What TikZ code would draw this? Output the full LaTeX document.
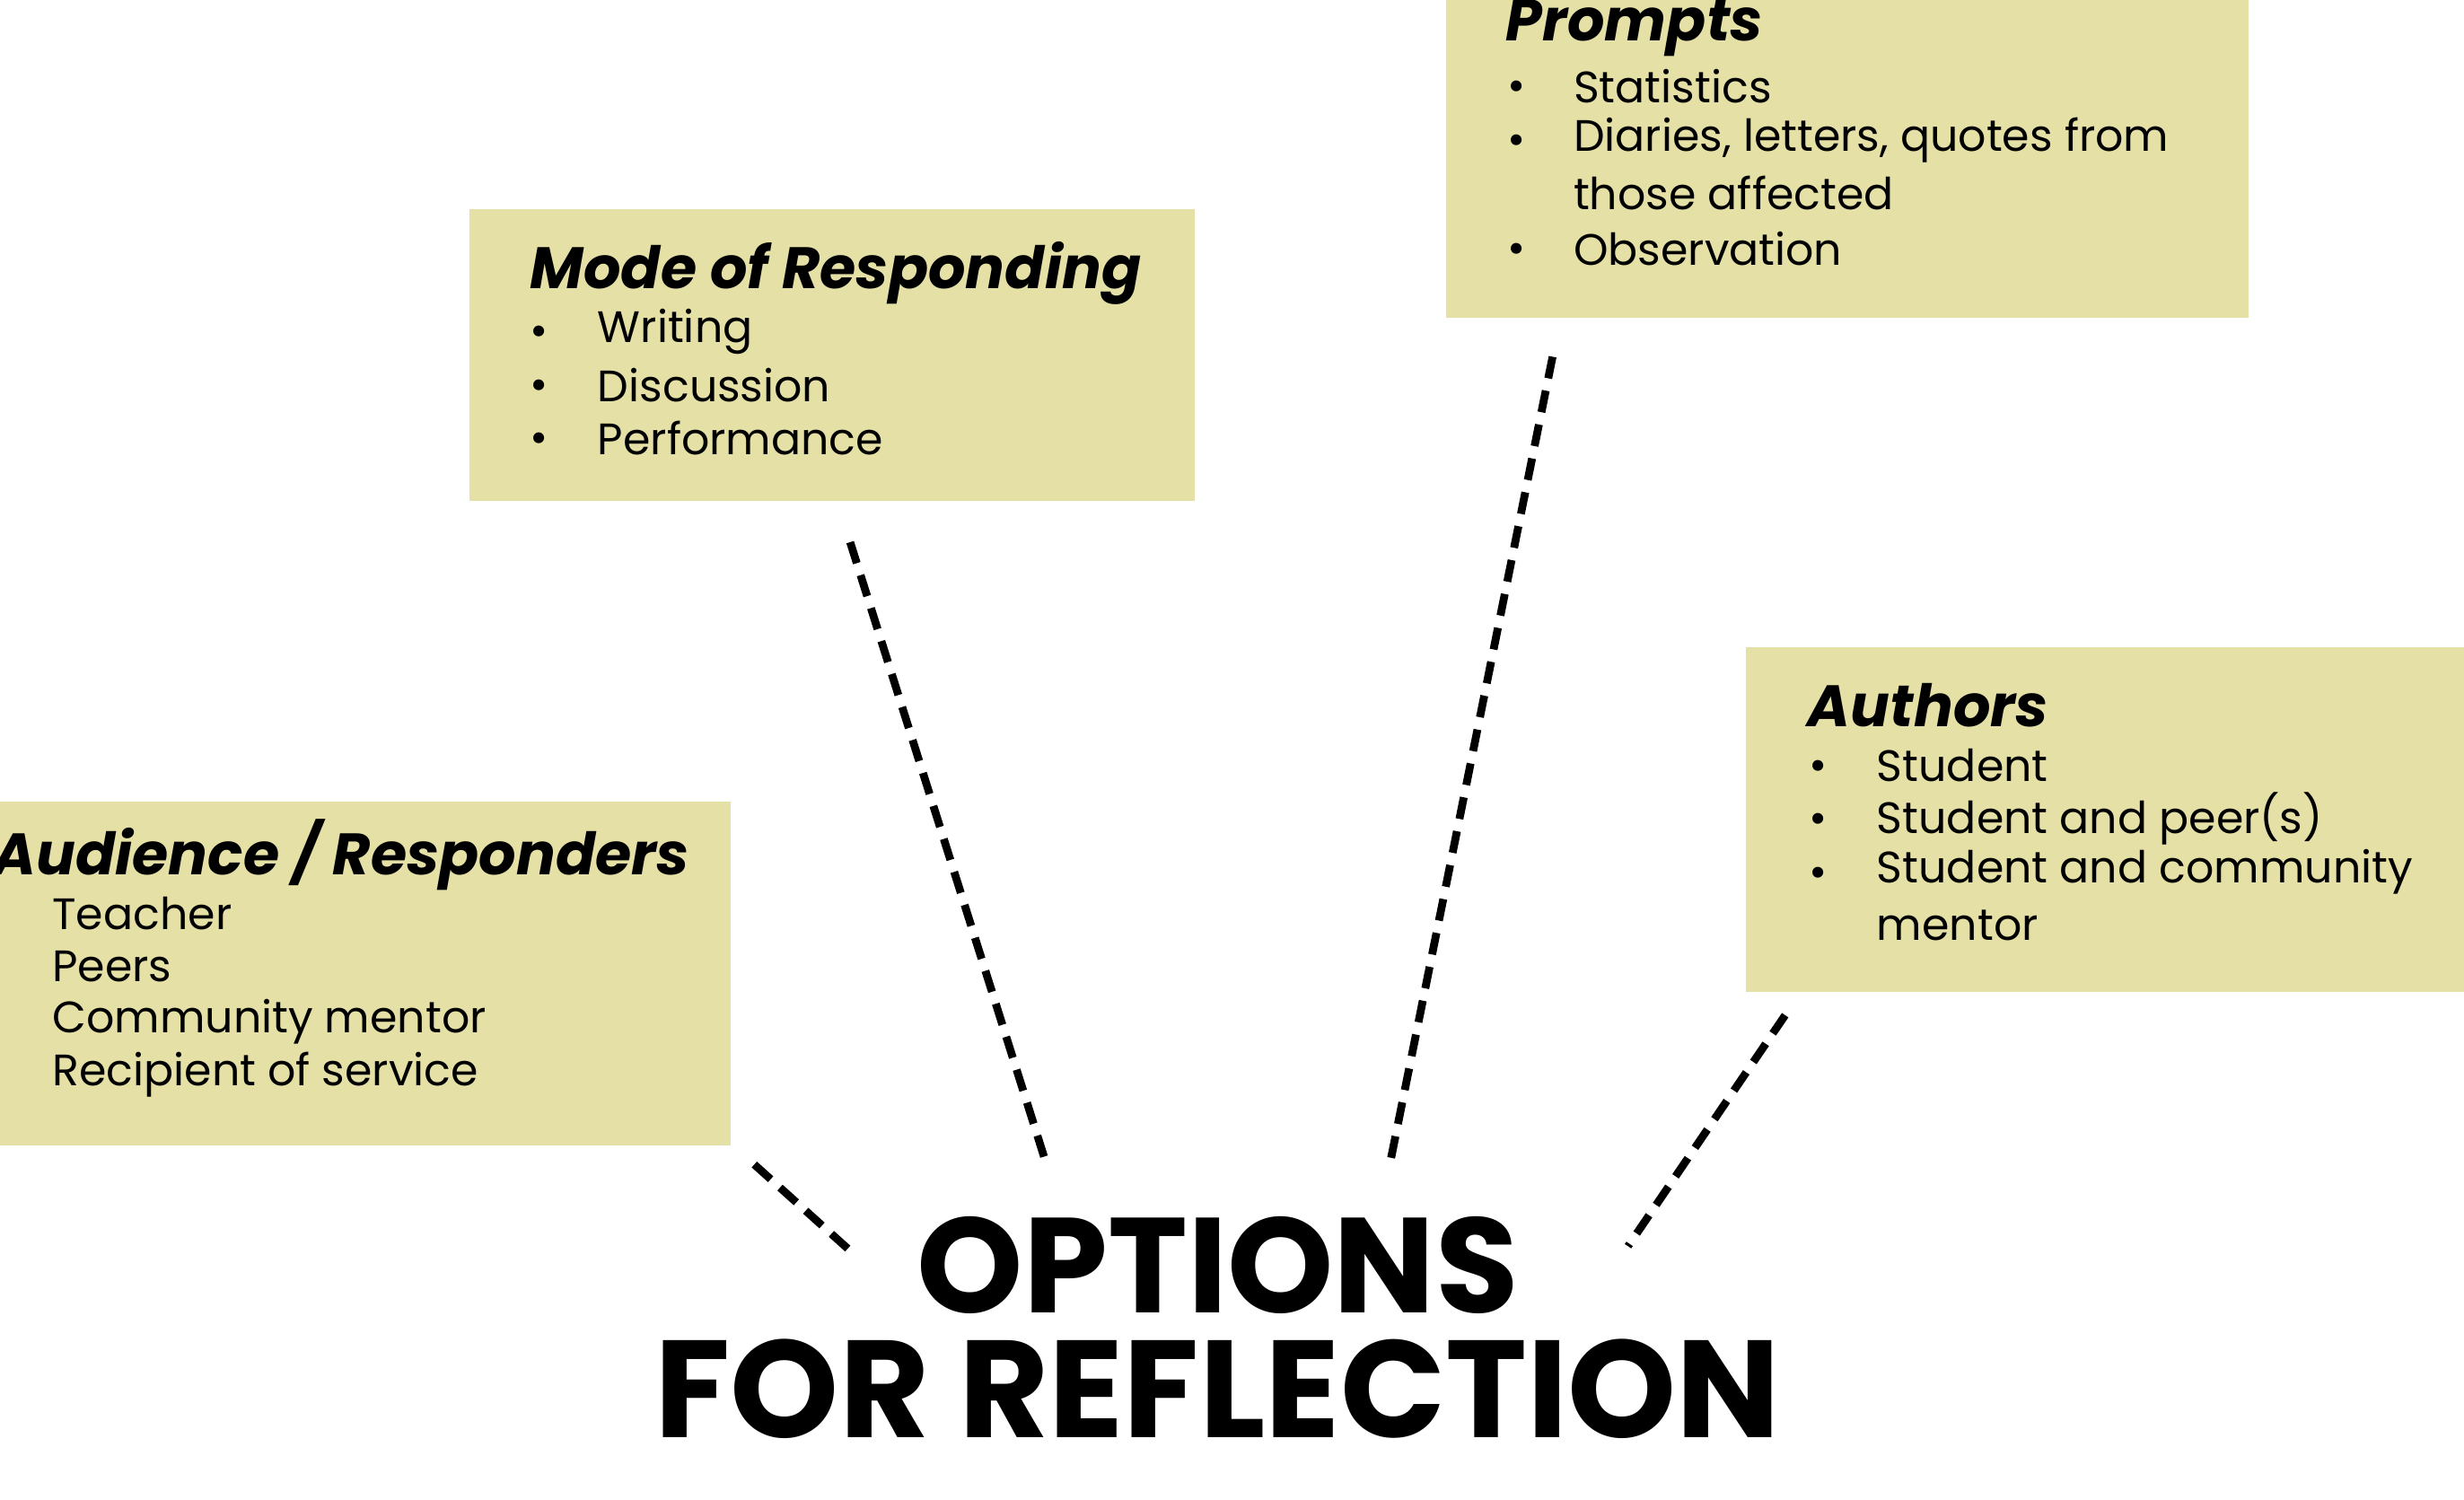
\documentclass[tikz,border=0pt]{standalone}
\usepackage{fontspec}
\setmainfont{Poppins}
\begin{document}
\begin{tikzpicture}[x=0.5pt,y=-0.5pt,
 head/.style={anchor=west,inner sep=0,font=\fontsize{18.6}{20}\selectfont\bfseries\itshape},
 item/.style={anchor=west,inner sep=0,font=\fontsize{14}{16}\selectfont},
 bul/.style={anchor=center,inner sep=0,font=\fontsize{14}{16}\selectfont,yshift=-1.5pt},
 dashln/.style={line width=2.5pt,dash pattern=on 7pt off 4pt}]
\definecolor{boxc}{HTML}{E5E0A5}
\useasboundingbox (0,0) rectangle (1568,954);
\clip (0,0) rectangle (1568,954);
% boxes
\fill[boxc] (299,133) rectangle (760,319);
\fill[boxc] (920,-10) rectangle (1431,202);
\fill[boxc] (1111,412) rectangle (1580,631);
\fill[boxc] (-10,510) rectangle (465,729);
% Mode
\node[head] (mh) at (337,174) {Mode of Responding};
\foreach \t/\y in {Writing/211,Discussion/245,Performance/279}{
 \node[bul] at (343,\y) {•}; \node[item] at (380,\y) {\t};}
% Prompts
\node[head] (ph) at (958,18) {Prompts};
\foreach \t/\y in {Statistics/55,{Diaries, letters, quotes from}/89,Observation/158}{
 \node[bul] at (965,\y) {•}; \node[item] at (1001,\y) {\t};}
\node[item] at (1001,123) {those affected};
% Authors
\node[head] (ah) at (1150,449) {Authors};
\foreach \t/\y in {Student/487,Student and peer(s)/521,Student and community/555}{
 \node[bul] at (1157,\y) {•}; \node[item] at (1194,\y) {\t};}
\node[item] at (1194,589) {mentor};
% Audience
\node[head,anchor=east] (uh) at (439,544) {Audience / Responders};
\foreach \t/\y in {Teacher/581,Peers/615,Community mentor/650,Recipient of service/684}{
 \node[item] at (33,\y) {\t};}
% title
\node[inner sep=0,font=\fontsize{43}{45}\selectfont\bfseries] (t1) at (775,805) {OPTIONS};
\node[inner sep=0,font=\fontsize{44}{46}\selectfont\bfseries] (t2) at (775,884) {FOR REFLECTION};
% connectors
\coordinate (a1) at (480,741); \coordinate (a2) at (540,795);
\coordinate (b1) at (541,345); \coordinate (b2) at (665,738);
\coordinate (c1) at (988,227); \coordinate (c2) at (885,738);
\coordinate (d1) at (1136,646); \coordinate (d2) at (1036,793);
\draw[dashln] (a1) -- (a2);
\draw[dashln] (b1) -- (b2);
\draw[dashln] (c1) -- (c2);
\draw[dashln] (d1) -- (d2);
\end{tikzpicture}
\end{document}
